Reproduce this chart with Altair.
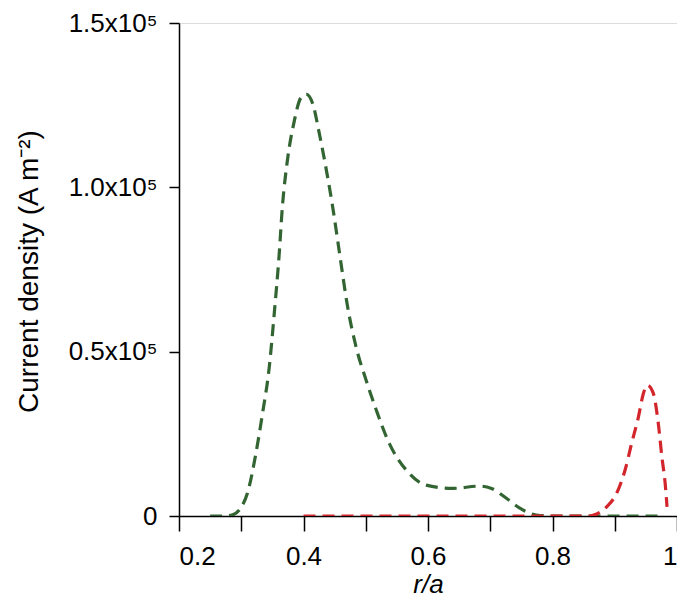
import altair as alt
import pandas as pd

# Green curve (r/a, current density A m^-2)
green_r = [0.25, 0.27, 0.285, 0.299, 0.31, 0.3235, 0.334, 0.345, 0.353, 0.361, 0.366, 0.374,
           0.385, 0.396, 0.405, 0.415, 0.4255, 0.436, 0.447, 0.458, 0.471, 0.4845, 0.5006,
           0.517, 0.538, 0.565, 0.597, 0.640, 0.683, 0.702, 0.726, 0.7475, 0.774, 0.80, 0.90, 0.975]
green_j = [0, 0, 300, 2400, 7000, 19000, 31000, 45300, 61600, 79800, 93900, 108000,
           120000, 127300, 128300, 125300, 116300, 106000, 93900, 79800, 63500, 51400, 41300,
           32200, 22000, 14000, 9400, 8400, 9100, 8400, 5400, 2400, 300, 0, 0, 0]

# Red curve
red_r = [0.40, 0.60, 0.80, 0.86, 0.871, 0.887, 0.903, 0.9166, 0.927, 0.938, 0.946, 0.9525,
         0.962, 0.970, 0.9757, 0.981, 0.984]
red_j = [0, 0, 0, 0, 600, 2800, 6900, 14000, 22000, 30100, 37300, 39800,
         37300, 28100, 18000, 9900, 2800]

series_names = ["green", "red"]
series_colors = ["#336533", "#d3262c"]

y_ticks = [0, 50000, 100000, 150000]
x_ticks = [0.2, 0.3, 0.4, 0.5, 0.6, 0.7, 0.8, 0.9, 1.0]

df = pd.concat([
    pd.DataFrame({"r": green_r, "j": green_j, "s": "green", "o": range(len(green_r))}),
    pd.DataFrame({"r": red_r, "j": red_j, "s": "red", "o": range(len(red_r))}),
])

FONT = "Liberation Sans"

chart = alt.Chart(df).mark_line(
    strokeWidth=3.2, strokeDash=[12, 7], interpolate="monotone", clip=True
).encode(
    x=alt.X("r:Q", scale=alt.Scale(domain=[0.2, 1.0], nice=False, zero=False),
            axis=alt.Axis(
                values=x_ticks, title="r/a", grid=False,
                labelExpr="(round(datum.value*10) % 2 == 0) ? format(datum.value, '~g') : ''",
                tickSize=15, tickWidth=1.5, domainWidth=1.5, domainColor="black", tickColor="black",
                labelFontSize=26, labelFont=FONT, labelColor="black", labelPadding=12,
                titleFontSize=26, titleFont=FONT, titleFontStyle="italic", titleFontWeight="normal",
                titleColor="black", titleBaseline="middle", titleY=68,
            )),
    y=alt.Y("j:Q", scale=alt.Scale(domain=[0, 150000], nice=False),
            axis=alt.Axis(
                values=y_ticks, title="Current density (A m⁻²)", grid=False,
                labelExpr="datum.value == 0 ? '0' : format(datum.value/100000, '.1f') + 'x10⁵'",
                tickSize=10, tickWidth=1.5, domainWidth=1.5, domainColor="black", tickColor="black",
                labelFontSize=26, labelFont=FONT, labelColor="black", labelPadding=12,
                titleFontSize=28, titleFont=FONT, titleFontWeight="normal", titleColor="black",
                titleAngle=-90, titleBaseline="middle", titleAlign="center",
                titleX=-150, titleY=248,
            )),
    color=alt.Color("s:N", scale=alt.Scale(domain=series_names, range=series_colors), legend=None),
    order="o:Q",
).properties(
    width=498, height=493,
    autosize=alt.AutoSizeParams(type="none"),
    padding={"left": 171, "top": 15, "right": 0, "bottom": 84},
).configure_view(stroke=None).configure(background="white")

chart.save("out.html", embed_options={"renderer": "svg", "actions": False})
